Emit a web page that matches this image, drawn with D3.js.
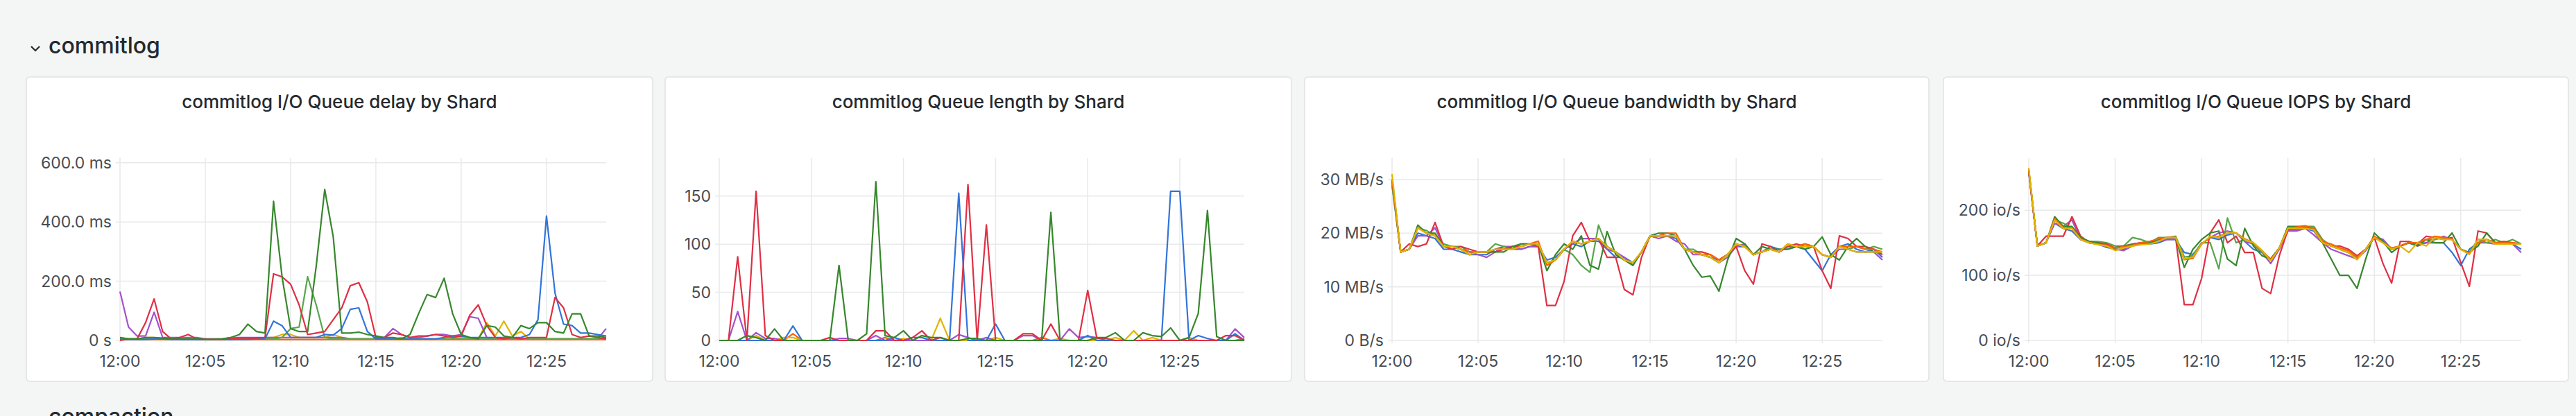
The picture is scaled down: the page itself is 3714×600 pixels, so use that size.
<!DOCTYPE html>
<html><head><meta charset="utf-8">
<script src="https://cdn.jsdelivr.net/npm/d3@7"></script>
<style>body{margin:0;background:#f4f5f5;}svg{display:block;font-family:Inter,Roboto,sans-serif;}</style>
</head><body><svg id="c" width="3714" height="600"></svg>
<script>
const minutes = d3.range(58).map(i => i / 2);
const tickMinutes = [0, 5, 10, 15, 20, 25];
const tickLabels = ["12:00", "12:05", "12:10", "12:15", "12:20", "12:25"];
const panelTitles = ["commitlog I/O Queue delay by Shard", "commitlog Queue length by Shard", "commitlog I/O Queue bandwidth by Shard", "commitlog I/O Queue IOPS by Shard"];
const seriesColors = {red:"#E02F44",green:"#37872D",lightgreen:"#56A64B",blue:"#3274D9",purple:"#A352CC",yellow:"#E0B400",orange:"#FA6400"};

const delayRed = [0,5,5,60,140,30,5,10,20,5,3,3,3,5,8,8,8,10,225,215,190,120,20,25,30,70,110,185,195,130,10,10,25,20,10,15,15,20,15,10,15,85,120,50,10,5,10,5,10,10,10,145,110,20,10,15,10,5];
const delayGreen = [10,5,5,10,10,8,5,5,5,5,3,3,5,10,20,55,30,25,470,215,40,30,30,250,510,350,25,25,28,20,15,10,10,5,20,90,155,145,210,90,20,10,5,50,45,15,10,50,40,60,60,30,25,90,90,15,15,10];
const delayLightGreen = [5,5,5,5,5,5,5,5,3,3,3,3,3,3,5,5,5,5,5,10,40,45,215,120,10,5,5,5,5,5,5,5,5,5,5,5,5,5,5,5,5,5,5,5,5,5,5,5,5,5,5,5,5,5,5,5,5,5];
const delayBlue = [3,3,3,3,5,5,3,3,3,3,3,3,3,3,3,3,5,5,65,50,10,10,10,10,20,18,40,105,110,30,5,5,5,5,5,5,5,5,10,15,15,10,10,10,10,10,10,10,20,70,420,160,55,50,25,25,20,15];
const delayPurple = [165,45,15,15,95,10,10,10,10,10,5,5,5,10,10,10,10,10,10,10,10,10,10,10,10,10,10,5,5,5,5,10,40,20,10,10,15,20,20,15,20,80,75,10,5,5,5,5,5,5,5,5,5,5,5,5,5,40];
const delayYellow = [10,5,5,10,10,5,5,5,5,5,5,5,5,5,5,5,5,10,10,20,20,10,10,10,10,20,10,5,5,5,5,5,5,10,5,5,5,5,5,5,10,10,5,60,15,65,15,30,5,5,5,5,5,5,5,5,5,5];
const delayOrange = [3,3,3,3,3,3,3,3,3,3,3,3,3,3,3,3,3,3,3,3,3,3,3,3,3,3,3,3,3,3,3,3,3,3,3,3,3,3,3,3,3,3,3,3,3,3,3,3,3,3,3,3,3,3,3,3,3,3];

const qRed = [0,0,87,0,155,5,0,0,0,0,0,0,3,0,0,0,0,10,10,0,0,3,10,0,3,0,0,162,0,120,0,0,0,7,7,0,17,0,0,0,52,2,2,0,0,0,0,0,0,0,0,0,0,0,0,5,5,0];
const qGreen = [0,0,0,5,3,0,12,0,0,0,0,0,0,78,0,0,7,165,5,3,10,0,5,3,3,0,0,2,2,0,0,0,0,0,0,0,133,0,0,0,0,3,3,8,0,0,8,5,4,13,0,3,28,135,4,0,0,0];
const qBlue = [0,0,0,0,0,0,0,0,15,0,0,0,0,0,0,0,0,0,0,3,0,3,3,0,0,0,153,0,0,0,17,0,0,0,0,0,0,0,0,0,5,0,0,0,0,0,0,0,0,155,155,0,5,2,0,0,7,0];
const qPurple = [0,0,30,0,8,2,2,0,0,0,0,0,0,2,2,0,0,5,0,0,0,0,0,0,0,0,6,3,0,3,0,0,0,5,5,0,0,0,12,3,4,3,0,0,0,0,0,0,0,0,0,0,0,0,0,0,12,3];
const qYellow = [0,0,0,0,5,0,0,3,3,0,0,0,0,0,0,0,0,0,0,0,2,0,0,0,23,0,0,0,0,0,3,0,0,0,0,0,0,2,0,0,0,0,0,3,0,10,0,3,0,0,0,3,0,0,0,0,0,0];
const qOrange = [0,0,0,0,0,0,0,0,7,0,0,0,0,0,0,0,0,0,3,0,0,0,0,0,0,0,0,0,0,0,0,0,0,0,0,3,0,0,0,0,0,0,0,0,0,0,0,0,0,0,0,0,0,0,0,0,0,2];

const bwRed = [30,16.5,18,17.5,18,22,17.5,17,17.5,17,16.5,16.5,16.5,17,17.5,17.5,18,17.5,6.5,6.5,11,19.5,22,18.5,19,15.5,15.5,9.5,8.5,15.5,19.5,19.5,19.5,19.5,17,16.5,16.5,16,15,16,17.5,13,10.5,18,17.5,16.5,17.5,18,17.5,17.5,13,9.7,19.5,19,17.5,17.5,17,16];
const bwGreen = [30,16.5,17,21.5,20,20,17.5,17.5,17,16,16.5,16.5,16.5,16.5,17.5,18,18,18,13,16,18,17,19.5,14,13.3,20.3,16,15,14,16.5,19.5,20,20,19.5,17,14,11.8,12,9.2,15,19,18,16,17.5,17,17,17,17.5,17,17.5,19.3,16,15,17.5,19,17.5,16.5,16.5];
const bwLightGreen = [29,16.5,17,21,20.5,19.5,18,17.5,17.5,16.5,16.5,16.5,18,17.5,17,18,18,18,14.5,15,17,16,14,12.7,21.5,17.5,16.5,15,14.5,16.5,19.5,19.5,19.5,19.5,17,17,16,15.5,14.5,16,18,17.5,16,16.5,17,16.5,17.5,17.5,17.5,17.5,16,15.5,17.5,17,17.5,17,17.5,17];
const bwBlue = [30,16.5,17,20,19.5,19,17,17,16.5,16,16,16,17,17.5,17,17,17.5,17.5,15,15.5,17,18,17.5,18.5,18.5,17,15.5,15.5,14.5,16.5,19.5,19.5,19.5,19,17,16.5,16,15.5,15,16,17.5,17.5,16,16.5,17.5,17,17,17.5,17,15,13,16,17.5,18,17,16.5,17,15.5];
const bwPurple = [29,16.5,17,19.5,19.5,21,17.5,17.5,17,16.5,16,15.5,16.5,17.5,17.5,17,17.5,17.5,14.5,15,17,18,19,19,19,17,16.5,15.5,14,16.5,19.5,19,19.5,18.5,18,16,16,15.5,14.5,15.5,17.5,18,16,16.5,17,16.5,17.5,17.5,18,17.5,16,15.5,17,17,16.5,16.5,16.5,15];
const bwOrange = [30,16.5,17,21,20,19.5,17.5,17.5,17,16.5,16.5,16.5,17,17,17,17.5,18,18.5,14,15,17,18.5,18,18.5,19,17.5,16.5,15,14.5,16.5,19.5,19.5,20,20,17,16.5,16,16,15,16,18,17.5,16,16.5,17,16.5,18,17.5,18,17.5,16,15.5,17.5,17.5,17.5,17,17,16.5];
const bwYellow = [31,16.5,17,21,20,19.5,17.5,17.5,17,16,16.5,16.5,17,17,17,17.5,18,18,14.5,15,17,18.5,18,18.5,19,17.5,16.5,15,14.5,16.5,19.5,19.5,19.5,19.5,17,16.5,16,15.5,14.5,16,18,17.5,16,16.5,17,16.5,18,17.5,17.5,17.5,16,15.5,17.5,17,16.5,16.5,16.5,16.5];

const ioRed = [260,145,160,160,160,190,160,150,150,148,142,145,148,150,152,155,158,158,55,55,95,165,185,150,160,135,135,80,72,130,170,172,172,172,150,145,145,140,130,140,158,118,88,152,152,148,160,158,155,158,120,83,168,165,150,152,150,148];
const ioGreen = [262,145,150,190,175,175,158,152,150,145,142,145,147,148,150,155,158,158,112,140,155,165,168,125,115,172,145,130,125,142,175,175,175,172,150,125,100,100,80,125,165,152,135,145,150,145,155,150,150,165,140,135,145,165,150,150,148,148];
const ioLightGreen = [262,145,150,185,180,172,158,152,152,150,145,145,158,155,150,158,158,160,128,130,150,150,110,188,150,155,150,135,125,142,172,172,175,175,155,145,140,135,128,140,158,150,140,145,150,148,155,155,158,155,140,135,155,150,155,150,155,148];
const ioBlue = [260,145,150,180,172,168,155,150,148,143,140,140,148,150,148,150,155,155,135,132,148,158,155,162,165,152,140,135,125,142,170,170,172,168,150,145,140,135,128,140,158,155,140,145,150,148,150,150,150,135,115,140,150,155,150,148,148,140];
const ioPurple = [258,145,150,180,175,185,155,152,150,145,140,138,145,150,150,152,155,155,125,128,148,158,165,168,165,152,148,135,118,140,168,168,172,162,150,140,135,130,125,138,158,155,140,145,150,145,150,155,160,155,140,133,150,150,148,148,148,135];
const ioOrange = [262,145,150,187,173,172,156,150,148,146,142,144,146,150,152,156,158,158,124,126,148,158,160,165,165,156,150,138,124,142,172,174,176,172,152,148,142,138,128,140,160,150,142,145,150,150,155,160,158,155,140,134,150,155,150,150,150,148];
const ioYellow = [265,145,150,185,172,172,155,150,147,145,138,142,145,147,148,152,158,158,125,128,148,160,158,165,165,155,150,138,122,142,172,172,172,170,150,145,140,135,124,140,158,150,140,145,135,150,145,158,155,155,140,132,155,155,148,148,148,148];

const delayTicks = [0,200,400,600], delayTickLabels = ["0 s","200.0 ms","400.0 ms","600.0 ms"];
const qTicks = [0,50,100,150], qTickLabels = ["0","50","100","150"];
const bwTicks = [0,10,20,30], bwTickLabels = ["0 B/s","10 MB/s","20 MB/s","30 MB/s"];
const ioTicks = [0,100,200], ioTickLabels = ["0 io/s","100 io/s","200 io/s"];

const panels = [
 {box:[38,941], plot:[173,874], ymax:616, ticks:delayTicks, labels:delayTickLabels,
  series:[["orange",delayOrange],["yellow",delayYellow],["purple",delayPurple],["lightgreen",delayLightGreen],["blue",delayBlue],["red",delayRed],["green",delayGreen]]},
 {box:[959,1862], plot:[1037,1794], ymax:189.5, ticks:qTicks, labels:qTickLabels,
  series:[["orange",qOrange],["yellow",qYellow],["purple",qPurple],["blue",qBlue],["red",qRed],["green",qGreen]]},
 {box:[1881,2781], plot:[2007,2714], ymax:34, ticks:bwTicks, labels:bwTickLabels,
  series:[["blue",bwBlue],["purple",bwPurple],["lightgreen",bwLightGreen],["red",bwRed],["green",bwGreen],["orange",bwOrange],["yellow",bwYellow]]},
 {box:[2802,3703], plot:[2925,3635], ymax:280, ticks:ioTicks, labels:ioTickLabels,
  series:[["blue",ioBlue],["purple",ioPurple],["lightgreen",ioLightGreen],["red",ioRed],["green",ioGreen],["orange",ioOrange],["yellow",ioYellow]]}
];

const svg = d3.select("#c");
function header(y, name){
  const g = svg.append("g");
  g.append("path").attr("d",`M${45},${y-10} l6,6 l6,-6`).attr("fill","none").attr("stroke","#24292e").attr("stroke-width",2.2);
  g.append("text").attr("x",70).attr("y",y).attr("font-size",32).attr("font-weight",500).attr("fill","#24292e").text(name);
}
header(77,"commitlog");
header(612,"compaction");

panels.forEach((p,pi)=>{
  svg.append("rect").attr("x",p.box[0]).attr("y",111).attr("width",p.box[1]-p.box[0]).attr("height",439)
    .attr("rx",5).attr("fill","#fff").attr("stroke","#dfe1e3").attr("stroke-width",1.5);
  svg.append("text").attr("x",(p.box[0]+p.box[1])/2).attr("y",156).attr("text-anchor","middle")
    .attr("font-size",26).attr("font-weight",500).attr("fill","#24292e").text(panelTitles[pi]);
  const x = d3.scaleLinear().domain([0,28.5]).range(p.plot);
  const y = d3.scaleLinear().domain([0,p.ymax]).range([491,228]);
  const g = svg.append("g");
  tickMinutes.forEach((m,i)=>{
    g.append("line").attr("x1",x(m)).attr("x2",x(m)).attr("y1",228).attr("y2",495).attr("stroke","#e8e9ea").attr("stroke-width",1.5);
    g.append("text").attr("x",x(m)).attr("y",529).attr("text-anchor","middle").attr("font-size",23).attr("fill","#464c54").text(tickLabels[i]);
  });
  p.ticks.forEach((t,i)=>{
    g.append("line").attr("x1",p.plot[0]-6).attr("x2",p.plot[1]).attr("y1",y(t)).attr("y2",y(t)).attr("stroke","#e8e9ea").attr("stroke-width",1.5);
    g.append("text").attr("x",p.plot[0]-12).attr("y",y(t)+8).attr("text-anchor","end").attr("font-size",23).attr("fill","#464c54").text(p.labels[i]);
  });
  const line = d3.line().x((d,i)=>x(minutes[i])).y(d=>y(d));
  p.series.forEach(([c,vals])=>{
    g.append("path").datum(vals).attr("d",line).attr("fill","none").attr("stroke",seriesColors[c]).attr("stroke-width",2.2).attr("stroke-linejoin","round");
  });
});
</script></body></html>
